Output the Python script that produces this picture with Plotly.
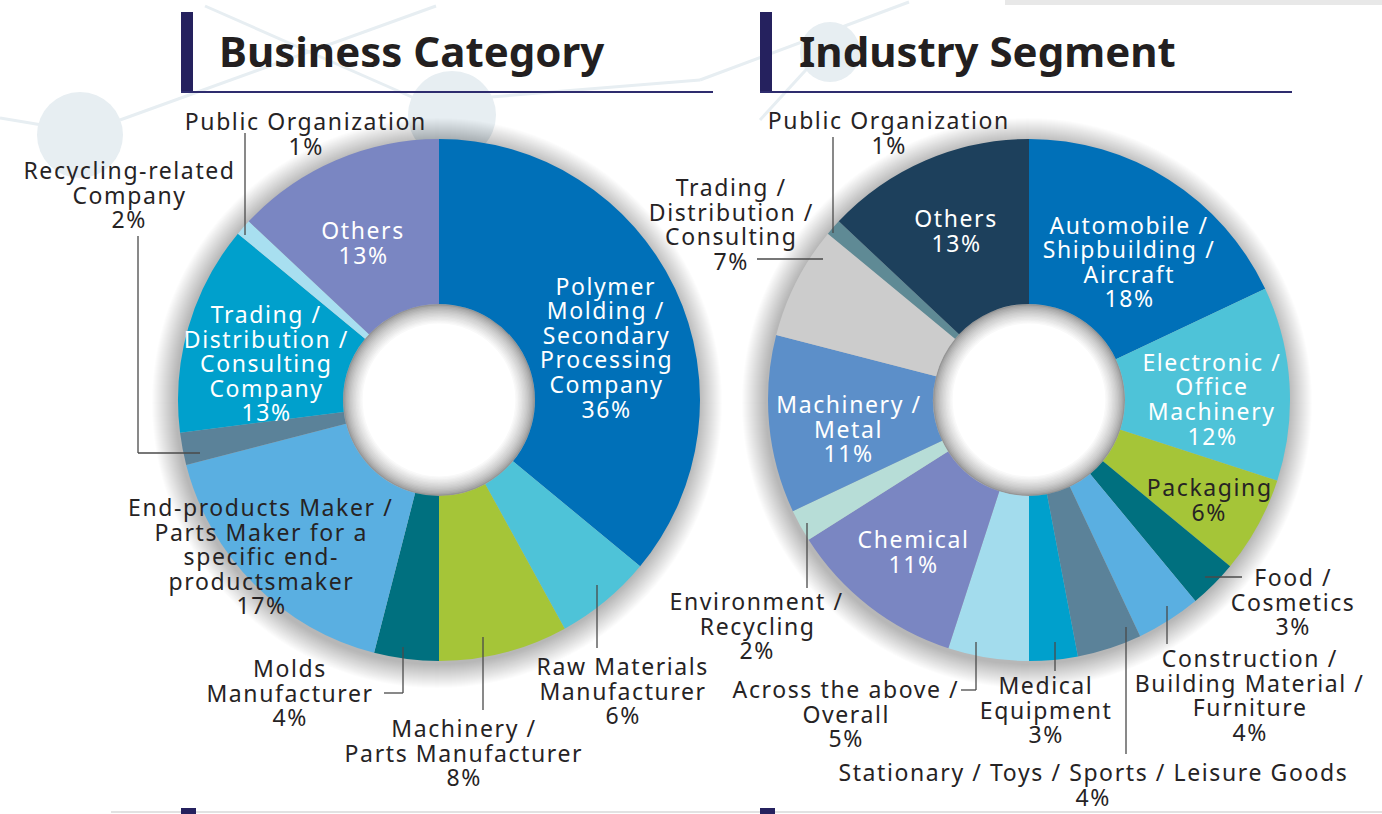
import plotly.graph_objects as go

W, H = 1382, 814

# ---------------- data ----------------
biz_labels = [
    "Polymer Molding / Secondary Processing Company",
    "Raw Materials Manufacturer",
    "Machinery / Parts Manufacturer",
    "Molds Manufacturer",
    "End-products Maker / Parts Maker for a specific end-productsmaker",
    "Recycling-related Company",
    "Trading / Distribution / Consulting Company",
    "Public Organization",
    "Others",
]
biz_values = [36, 6, 8, 4, 17, 2, 13, 1, 13]
biz_text_lines = [
    ["Polymer", "Molding /", "Secondary", "Processing", "Company"],
    ["Raw Materials", "Manufacturer"],
    ["Machinery /", "Parts Manufacturer"],
    ["Molds", "Manufacturer"],
    ["End-products Maker /", "Parts Maker for a", "specific end-", "productsmaker"],
    ["Recycling-related", "Company"],
    ["Trading /", "Distribution /", "Consulting", "Company"],
    ["Public Organization"],
    ["Others"],
]

ind_labels = [
    "Automobile / Shipbuilding / Aircraft",
    "Electronic / Office Machinery",
    "Packaging",
    "Food / Cosmetics",
    "Construction / Building Material / Furniture",
    "Stationary / Toys / Sports / Leisure Goods",
    "Medical Equipment",
    "Across the above / Overall",
    "Chemical",
    "Environment / Recycling",
    "Machinery / Metal",
    "Trading / Distribution / Consulting",
    "Public Organization",
    "Others",
]
ind_values = [18, 12, 6, 3, 4, 4, 3, 5, 11, 2, 11, 7, 1, 13]
ind_text_lines = [
    ["Automobile /", "Shipbuilding /", "Aircraft"],
    ["Electronic /", "Office", "Machinery"],
    ["Packaging"],
    ["Food /", "Cosmetics"],
    ["Construction /", "Building Material /", "Furniture"],
    ["Stationary / Toys / Sports / Leisure Goods"],
    ["Medical", "Equipment"],
    ["Across the above /", "Overall"],
    ["Chemical"],
    ["Environment /", "Recycling"],
    ["Machinery /", "Metal"],
    ["Trading /", "Distribution /", "Consulting"],
    ["Public Organization"],
    ["Others"],
]

titles = ["Business Category", "Industry Segment"]

# ---------------- styles ----------------
biz_colors = ["#0070b8", "#4ec3d8", "#a5c538", "#00707f", "#5aafe1",
              "#5b8299", "#00a0cc", "#a8dff0", "#7a86c2"]
ind_colors = ["#0070b8", "#4ec3d8", "#a5c538", "#00707f", "#5aafe1",
              "#5b8299", "#00a0cc", "#a3dced", "#7a86c2", "#b7ddd7",
              "#5c8fc9", "#cccccc", "#5f8a95", "#1d405c"]

DARK = "#262324"
WHITE = "#ffffff"
FONT = "Noto Sans"
FS = 23
PITCH = 24.5

# label anchor (x centre, y of first line) and colour, in pixels
biz_pos = [(606, 286, WHITE), (623, 666, DARK), (464, 728, DARK), (290, 668, DARK),
           (261, 507, DARK), (129, 170, DARK), (266, 314, WHITE), (306, 121, DARK),
           (363, 230, WHITE)]
ind_pos = [(1129, 225, WHITE), (1212, 362, WHITE), (1209, 487, DARK), (1293, 577, DARK),
           (1250, 658, DARK), (1093, 772, DARK), (1046, 685, DARK), (846, 689, DARK),
           (913, 539, WHITE), (757, 601, DARK), (849, 404, WHITE), (731, 187, DARK),
           (889, 120, DARK), (956, 218, WHITE)]

leaders = [
    [(245, 133), (245, 235)],
    [(138, 236), (138, 453), (200, 453)],
    [(384, 693), (403, 693), (403, 647)],
    [(483, 637), (483, 710)],
    [(597, 585), (597, 648)],
    [(833, 137), (833, 233)],
    [(757, 259), (823, 259)],
    [(807, 523), (807, 588)],
    [(961, 690), (976, 690), (976, 642)],
    [(1055, 642), (1055, 671)],
    [(1126, 627), (1126, 754)],
    [(1167, 606), (1167, 644)],
    [(1205, 577), (1242, 577)],
]

centers = [(439, 400), (1029, 400)]
R = 261
HOLE_R = 96


def X(px):
    return px / W


def Y(py):
    return 1 - py / H


fig = go.Figure()

for (cx, cy), labels, values, colors in [
    (centers[0], biz_labels, biz_values, biz_colors),
    (centers[1], ind_labels, ind_values, ind_colors),
]:
    fig.add_trace(go.Pie(
        labels=labels, values=values, sort=False, direction="clockwise",
        rotation=0, hole=HOLE_R / R, textinfo="none", hoverinfo="label+percent",
        marker=dict(colors=colors, line=dict(width=0)),
        domain=dict(x=[X(cx - R), X(cx + R)], y=[Y(cy + R), Y(cy - R)]),
        showlegend=False,
    ))

shapes = []

# faint background network decoration
deco = "#e7eef2"
for (x0, y0, x1, y1) in [(0, 118, 60, 128), (120, 120, 436, 6), (205, 6, 430, 105),
                         (491, 97, 700, 80), (700, 80, 909, 2), (760, 120, 815, 60)]:
    shapes.append(dict(type="line", xref="paper", yref="paper", layer="below",
                       x0=X(x0), y0=Y(y0), x1=X(x1), y1=Y(y1),
                       line=dict(color=deco, width=3)))
for (ccx, ccy, rr) in [(80, 135, 43), (452, 115, 44), (830, 52, 30)]:
    shapes.append(dict(type="circle", xref="paper", yref="paper", layer="below",
                       x0=X(ccx - rr), y0=Y(ccy + rr), x1=X(ccx + rr), y1=Y(ccy - rr),
                       fillcolor=deco, line=dict(width=0)))

# top-right grey strip and bottom details
shapes.append(dict(type="rect", xref="paper", yref="paper", layer="below",
                   x0=X(1005), y0=Y(5), x1=1, y1=1, fillcolor="#e8e8e8", line=dict(width=0)))
shapes.append(dict(type="line", xref="paper", yref="paper", layer="below",
                   x0=X(111), y0=Y(812), x1=1, y1=Y(812), line=dict(color="#e2e2e2", width=2)))
for bx in (181, 760):
    shapes.append(dict(type="rect", xref="paper", yref="paper", layer="below",
                       x0=X(bx), y0=0, x1=X(bx + 15), y1=Y(808),
                       fillcolor="#25215e", line=dict(width=0)))

# drop shadows around donuts and shading inside holes
for (cx, cy) in centers:
    for k in range(24, 0, -1):
        rr = R + k
        shapes.append(dict(type="circle", xref="paper", yref="paper", layer="below",
                           x0=X(cx - rr - 2), y0=Y(cy + rr + 3), x1=X(cx + rr - 2), y1=Y(cy - rr + 3),
                           fillcolor="rgba(0,0,0,0.012)", line=dict(width=0)))
    steps = 14
    for k in range(steps + 1):
        rr = HOLE_R - k * 1.4
        t = k / steps
        g = int(150 + (255 - 150) * (t ** 0.7))
        shapes.append(dict(type="circle", xref="paper", yref="paper", layer="below",
                           x0=X(cx - rr), y0=Y(cy + rr), x1=X(cx + rr), y1=Y(cy - rr),
                           fillcolor=f"rgb({g},{g},{g})", line=dict(width=0)))

# title bars
for (bx, tx, ex) in [(181, 217, 713), (760, 797, 1292)]:
    shapes.append(dict(type="rect", xref="paper", yref="paper", layer="above",
                       x0=X(bx), y0=Y(92), x1=X(bx + 12), y1=Y(12),
                       fillcolor="#25215e", line=dict(width=0)))
    shapes.append(dict(type="line", xref="paper", yref="paper", layer="above",
                       x0=X(bx), y0=Y(92), x1=X(ex), y1=Y(92),
                       line=dict(color="#2e2c6e", width=2)))

# leader lines
for pts in leaders:
    for (a, b) in zip(pts[:-1], pts[1:]):
        shapes.append(dict(type="line", xref="paper", yref="paper", layer="above",
                           x0=X(a[0]), y0=Y(a[1]), x1=X(b[0]), y1=Y(b[1]),
                           line=dict(color="#4a4a4a", width=1.3)))

annotations = []
for title, tx in zip(titles, (217, 797)):
    annotations.append(dict(text=title, x=X(tx), y=Y(50), xref="paper", yref="paper",
                            xanchor="left", yanchor="middle", showarrow=False,
                            font=dict(family=FONT, size=42, color="#231f20", weight="bold")))

for lines_list, values, pos in [(biz_text_lines, biz_values, biz_pos),
                                (ind_text_lines, ind_values, ind_pos)]:
    for lines, v, (cx, cy, col) in zip(lines_list, values, pos):
        all_lines = lines + [f"{v}%"]
        for i, ln in enumerate(all_lines):
            annotations.append(dict(text=ln, x=X(cx), y=Y(cy + i * PITCH),
                                    xref="paper", yref="paper", xanchor="center",
                                    yanchor="middle", showarrow=False,
                                    font=dict(family=FONT, size=FS, color=col)))

fig.update_layout(
    width=W, height=H, margin=dict(l=0, r=0, t=0, b=0),
    paper_bgcolor="#ffffff", plot_bgcolor="#ffffff",
    shapes=shapes, annotations=annotations,
)

# widen tracking of the label texts (titles keep normal spacing)
tracking_js = """
var gd = document.getElementById('{plot_id}');
gd.querySelectorAll('g.annotation').forEach(function(a){
  var idx = parseInt(a.getAttribute('data-index'));
  if (idx >= 2) {
    a.querySelectorAll('text').forEach(function(t){ t.style.letterSpacing = '1.6px'; });
  }
});
"""

fig.write_html("out.html", post_script=tracking_js)
